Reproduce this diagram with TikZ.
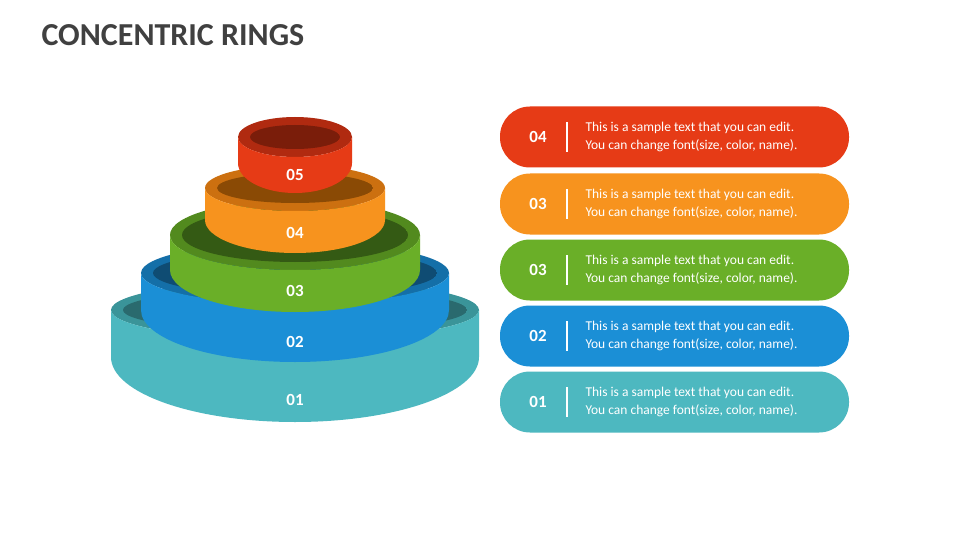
\documentclass[tikz,border=0pt]{standalone}
\usepackage{fontspec}
\setmainfont{Carlito}
\begin{document}
\begin{tikzpicture}[x=1pt,y=-1pt,
  pill/.style={rounded corners=30pt,minimum width=349pt,minimum height=61pt,inner sep=0pt},
  num/.style={text=white,font=\bfseries\fontsize{17}{20}\selectfont},
  txt/.style={text=white,font=\fontsize{13.5}{18.5}\selectfont,align=left,anchor=west}]
\useasboundingbox (0,0) rectangle (960,540);
\fill[white] (0,0) rectangle (960,540);
\node[anchor=west,text=black!75,font=\bfseries\fontsize{32}{36}\selectfont] (title) at (38,35) {CONCENTRIC RINGS};
\definecolor{sA}{HTML}{4DB8C0}\definecolor{rA}{HTML}{3A9499}\definecolor{iA}{HTML}{2A6A6E}
\definecolor{sB}{HTML}{1B8FD6}\definecolor{rB}{HTML}{146FA8}\definecolor{iB}{HTML}{0F4C73}
\definecolor{sC}{HTML}{6AAF28}\definecolor{rC}{HTML}{528A1E}\definecolor{iC}{HTML}{345A14}
\definecolor{sD}{HTML}{F7931E}\definecolor{rD}{HTML}{CC7010}\definecolor{iD}{HTML}{8A4A05}
\definecolor{sE}{HTML}{E63B16}\definecolor{rE}{HTML}{B02A10}\definecolor{iE}{HTML}{7A1D0A}
% #1 cy #2 rx #3 ry #4 h #5 bry #6 side #7 rim #8 inner #9 white hole
\newcommand\myring[9]{%
  \fill[#7] (295,#1) ellipse [x radius=#2pt,y radius=#3pt];
  \begin{scope}
  \clip (295,#1) ellipse [x radius=#2pt-12pt,y radius=#3pt-8pt];
  \fill[#8] (295,#1) ellipse [x radius=#2pt-12pt,y radius=#3pt-8pt];
  \ifnum#9=1 \fill[white] (295,#1+#4+6) ellipse [x radius=#2pt-12pt,y radius=#3pt-2pt];\fi
  \end{scope}
  \fill[#6] (295-#2,#1) -- (295-#2,#1+#4) arc[start angle=180,end angle=360,x radius=#2pt,y radius=#5pt]
     -- (295+#2,#1) arc[start angle=360,end angle=180,x radius=#2pt,y radius=#3pt] -- cycle;
}
\myring{310}{184}{30}{47}{65}{sA}{rA}{iA}{1}
\myring{273}{154}{31}{37}{52}{sB}{rB}{iB}{1}
\myring{235}{125}{35}{35}{42}{sC}{rC}{iC}{0}
\myring{188}{90}{23}{32}{33}{sD}{rD}{iD}{0}
\myring{137}{57}{20}{26}{30}{sE}{rE}{iE}{0}
\node[num] (r1) at (295,400) {01};
\node[num] (r2) at (295,342) {02};
\node[num] (r3) at (295,291) {03};
\node[num] (r4) at (295,233) {04};
\node[num] (r5) at (295,175) {05};
\foreach \y/\n/\c/\i in {137/04/sE/a,204/03/sD/b,270/03/sC/c,336/02/sB/d,402/01/sA/e}{
  \node[pill,fill=\c] (p\i) at (674.5,\y) {};
  \node[num] (n\i) at (538,\y) {\n};
  \draw[white,line width=1.2pt] (567,\y-15) -- (567,\y+15);
  \node[txt] (t\i) at (582,\y) {This is a sample text that you can edit.\\You can change font(size, color, name).};
}
\end{tikzpicture}
\end{document}
